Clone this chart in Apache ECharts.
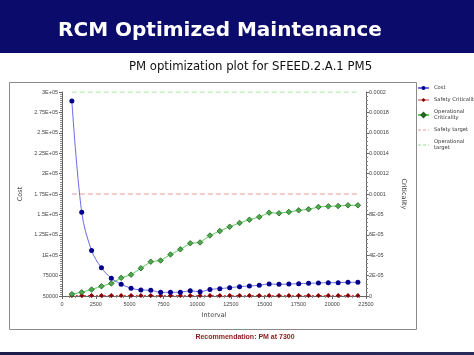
<!DOCTYPE html>
<html>
<head>
<meta charset="utf-8">
<script src="https://cdn.jsdelivr.net/npm/echarts@6/dist/echarts.min.js"></script>
<style>
html,body{margin:0;padding:0;background:#fff;}
#chart{width:474px;height:355px;}
</style>
</head>
<body>
<div id="chart"></div>
<script>
// ---- data ----
const intervals = [730, 1460, 2190, 2920, 3650, 4380, 5110, 5840, 6570, 7300,
  8030, 8760, 9490, 10220, 10950, 11680, 12410, 13140, 13870, 14600,
  15330, 16060, 16790, 17520, 18250, 18980, 19710, 20440, 21170, 21900];

const costValues = [289000, 152500, 105800, 84500, 71800, 64500, 59500, 57400, 57000, 54500,
  54500, 54700, 56300, 55300, 58000, 59000, 60200, 61400, 62300, 63100,
  64700, 64300, 64700, 65100, 65600, 65900, 66300, 66300, 66800, 66800];

const safetyCriticality = [4e-7, 4e-7, 4e-7, 4e-7, 4e-7, 4e-7, 4e-7, 4e-7, 4e-7, 4e-7,
  4e-7, 4e-7, 4e-7, 4e-7, 4e-7, 4e-7, 4e-7, 4e-7, 4e-7, 4e-7,
  4e-7, 4e-7, 4e-7, 4e-7, 4e-7, 4e-7, 4e-7, 4e-7, 4e-7, 4e-7];

const operationalCriticality = [1.8e-6, 3.6e-6, 6.3e-6, 9.5e-6, 1.23e-5, 1.78e-5, 2.09e-5, 2.72e-5, 3.36e-5, 3.48e-5,
  4.07e-5, 4.58e-5, 5.17e-5, 5.25e-5, 5.93e-5, 6.37e-5, 6.79e-5, 7.16e-5, 7.48e-5, 7.75e-5,
  8.17e-5, 8.11e-5, 8.24e-5, 8.40e-5, 8.50e-5, 8.73e-5, 8.79e-5, 8.82e-5, 8.89e-5, 8.89e-5];

const targetX = [730, 21900];
const safetyTarget = [0.0001, 0.0001];
const operationalTarget = [0.0002, 0.0002];

const seriesNames = ['Cost', 'Safety Criticality', 'Operational Criticality', 'Safety target', 'Operational target'];
const legendLabels = ['Cost', 'Safety Criticality', 'Operational\nCriticality', 'Safety target', 'Operational\ntarget'];

const xTickLabels = ['0', '2500', '5000', '7500', '10000', '12500', '15000', '17500', '20000', '22500'];
const costTickLabels = ['50000', '75000', '1E+05', '1.25E+05', '1.5E+05', '1.75E+05', '2E+05', '2.25E+05', '2.5E+05', '2.75E+05', '3E+05'];
const critTickLabels = ['0', '2E-05', '4E-05', '6E-05', '8E-05', '0.0001', '0.00012', '0.00014', '0.00016', '0.00018', '0.0002'];

const mainTitle = 'RCM Optimized Maintenance';
const chartTitle = 'PM optimization plot for SFEED.2.A.1 PM5';
const recommendation = 'Recommendation: PM at 7300';
const xName = 'Interval', costName = 'Cost', critName = 'Criticality';

// ---- build ----
const pair = (xs, ys) => xs.map((x, i) => [x, ys[i]]);
const X_INT = 2500, C_MIN = 50000, C_INT = 25000, K_INT = 0.00002;
const labelFont = {fontFamily: 'Liberation Sans', fontSize: 5.5, color: '#444'};
const axisLineStyle = {color: '#666', width: 1};
const targetColors = {'Safety target': '#e39a9a', 'Operational target': '#8fe08f'};
const safetyLineColor = '#d23a3a';

const chart = echarts.init(document.getElementById('chart'), null, {renderer: 'canvas'});
chart.setOption({
  backgroundColor: '#ffffff',
  animation: false,
  graphic: [
    {type: 'rect', shape: {x: 0, y: 0, width: 474, height: 53}, style: {fill: '#0b0b6c'}, z: 0},
    {type: 'rect', shape: {x: 0, y: 352, width: 474, height: 3},
      style: {fill: new echarts.graphic.LinearGradient(0, 0, 1, 0, [{offset: 0, color: '#1c1d4a'}, {offset: 1, color: '#2a2c5c'}])}, z: 0},
    {type: 'rect', shape: {x: 9.5, y: 82.5, width: 407, height: 247}, style: {fill: 'none', stroke: '#8a8a8a', lineWidth: 1}, z: 0},
    {type: 'text', x: 220, y: 31, style: {text: mainTitle, fill: '#ffffff', font: 'bold 20px "DejaVu Sans"', textAlign: 'center', textVerticalAlign: 'middle'}, z: 5},
    {type: 'text', x: 250.5, y: 67, style: {text: chartTitle, fill: '#111', font: '11.7px "DejaVu Sans"', textAlign: 'center', textVerticalAlign: 'middle'}, z: 5},
    {type: 'text', x: 245, y: 337, style: {text: recommendation, fill: '#8b1a1a', font: 'bold 7px "Liberation Sans"', textAlign: 'center', textVerticalAlign: 'middle'}, z: 5}
  ],
  legend: {
    orient: 'vertical', left: 417, top: 85, padding: 0,
    itemWidth: 11, itemHeight: 5, itemGap: 6,
    data: seriesNames.map(n => {
      if (targetColors[n]) return {name: n, itemStyle: {opacity: 0}, lineStyle: {color: targetColors[n], width: 1, type: [3, 2]}};
      if (n === 'Safety Criticality') return {name: n, lineStyle: {color: safetyLineColor, width: 1, type: 'solid'}};
      return {name: n};
    }),
    formatter: name => legendLabels[seriesNames.indexOf(name)],
    textStyle: {fontFamily: 'DejaVu Sans', fontSize: 5.2, lineHeight: 6, color: '#333'}
  },
  grid: {left: 62, right: 108, top: 92, bottom: 59, containLabel: false, outerBoundsMode: 'none'},
  xAxis: {
    type: 'value', min: 0, max: 22500, interval: X_INT,
    name: xName, nameLocation: 'middle', nameGap: 14,
    nameTextStyle: {fontFamily: 'DejaVu Sans', fontSize: 6.5, color: '#444'},
    axisLine: {show: true, lineStyle: axisLineStyle},
    axisTick: {show: true, length: 3, lineStyle: axisLineStyle},
    minorTick: {show: true, splitNumber: 5, length: 2, lineStyle: {color: '#888'}},
    axisLabel: {...labelFont, margin: 5, formatter: v => xTickLabels[Math.round(v / X_INT)]},
    splitLine: {show: false}
  },
  yAxis: [
    {
      type: 'value', position: 'left', min: C_MIN, max: 300000, interval: C_INT,
      name: costName, nameLocation: 'middle', nameGap: 35, nameRotate: 90,
      nameTextStyle: {fontFamily: 'DejaVu Sans', fontSize: 6.5, color: '#444'},
      axisLine: {show: true, lineStyle: axisLineStyle},
      axisTick: {show: true, length: 3, lineStyle: axisLineStyle},
      minorTick: {show: true, splitNumber: 10, length: 2, lineStyle: {color: '#888'}},
      axisLabel: {...labelFont, margin: 4, formatter: v => costTickLabels[Math.round((v - C_MIN) / C_INT)]},
      splitLine: {show: false}
    },
    {
      type: 'value', position: 'right', min: 0, max: 0.0002, interval: K_INT,
      name: critName, nameLocation: 'middle', nameGap: 32, nameRotate: -90,
      nameTextStyle: {fontFamily: 'DejaVu Sans', fontSize: 6.5, color: '#444'},
      axisLine: {show: true, lineStyle: axisLineStyle},
      axisTick: {show: true, length: 3, lineStyle: axisLineStyle},
      minorTick: {show: true, splitNumber: 5, length: 2, lineStyle: {color: '#888'}},
      axisLabel: {...labelFont, margin: 3, formatter: v => critTickLabels[Math.round(v / K_INT)]},
      splitLine: {show: false}
    }
  ],
  series: [
    {
      name: seriesNames[0], type: 'line', yAxisIndex: 0, smooth: 0.35,
      data: pair(intervals, costValues),
      symbol: 'circle', symbolSize: 5,
      lineStyle: {color: '#6a6ae8', width: 1},
      itemStyle: {color: '#00008b'}, z: 4
    },
    {
      name: seriesNames[1], type: 'line', yAxisIndex: 1,
      data: pair(intervals, safetyCriticality),
      symbol: 'diamond', symbolSize: 5,
      lineStyle: {color: safetyLineColor, width: 1, type: [2, 2]},
      itemStyle: {color: '#8b0000'}, z: 3
    },
    {
      name: seriesNames[2], type: 'line', yAxisIndex: 1,
      data: pair(intervals, operationalCriticality),
      symbol: 'diamond', symbolSize: 5.5,
      lineStyle: {color: '#5fd05f', width: 1},
      itemStyle: {color: '#4caa4c', borderColor: '#1f5f1f', borderWidth: 0.8}, z: 3
    },
    {
      name: seriesNames[3], type: 'line', yAxisIndex: 1,
      data: pair(targetX, safetyTarget), symbol: 'none',
      lineStyle: {color: targetColors['Safety target'], width: 1, type: [5, 3]},
      itemStyle: {color: targetColors['Safety target']}, z: 2
    },
    {
      name: seriesNames[4], type: 'line', yAxisIndex: 1,
      data: pair(targetX, operationalTarget), symbol: 'none',
      lineStyle: {color: targetColors['Operational target'], width: 1, type: [5, 3]},
      itemStyle: {color: targetColors['Operational target']}, z: 2
    }
  ]
});
</script>
</body>
</html>
